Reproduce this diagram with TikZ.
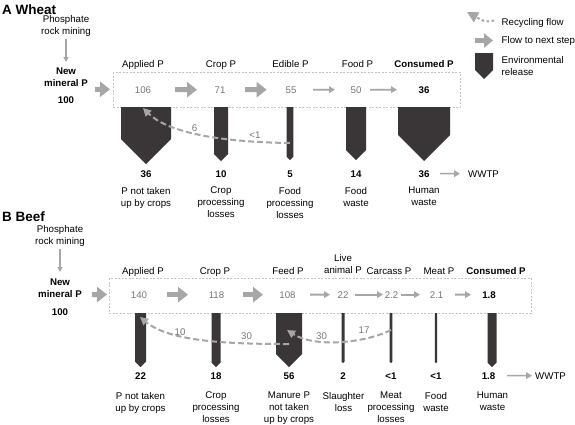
\documentclass[tikz,border=0pt]{standalone}
\usepackage{fontspec}
\setmainfont{Liberation Sans}
\usetikzlibrary{arrows.meta}
\definecolor{flowgray}{RGB}{166,166,166}
\definecolor{relgray}{RGB}{58,54,55}
\definecolor{valgray}{RGB}{120,120,120}
\definecolor{boxgray}{RGB}{196,196,196}
\newcommand\relshape[4]{\fill[relgray] ({#1-#2},#3) -- ({#1+#2},#3) -- ({#1+#2},{#4-#2}) -- (#1,#4) -- ({#1-#2},{#4-#2}) -- cycle;}
\tikzset{
  txt/.style={inner sep=0pt, font=\fontsize{9.7}{12}\selectfont, align=center},
  hdr/.style={txt, anchor=base},
  hdrb/.style={hdr, font=\fontsize{9.7}{12}\selectfont\bfseries},
  val/.style={txt, anchor=base, text=valgray},
  valb/.style={txt, anchor=base, font=\fontsize{9.7}{12}\selectfont\bfseries},
  lbl/.style={txt, anchor=north},
  lblb/.style={lbl, font=\fontsize{9.7}{12}\selectfont\bfseries},
  legtxt/.style={inner sep=0pt, font=\fontsize{9.7}{12}\selectfont, align=left},
  title/.style={inner sep=0pt, anchor=base west, font=\fontsize{13.5}{16}\selectfont\bfseries},
  bigflow/.style={draw=flowgray, line width=5pt, -{Triangle[length=10pt,width=15pt]}},
  smallflow/.style={draw=flowgray, line width=1.8pt, -{Triangle[length=6pt,width=6.5pt]}},
  downflow/.style={draw=flowgray, line width=1.3pt, -{Triangle[length=5pt,width=5pt]}},
  recyc/.style={draw=flowgray, line width=2pt, dash pattern=on 6pt off 3pt, -{Triangle[length=8pt,width=8pt]}},
  framebox/.style={draw=boxgray, line width=0.7pt, dash pattern=on 2pt off 1.5pt},
}
\begin{document}
\begin{tikzpicture}[x=1pt,y=-1pt]
\useasboundingbox (0,0) rectangle (575,424);
\fill[white] (0,0) rectangle (575,424);

% ---------------- Legend ----------------
\coordinate (lgrA) at (494,20.5);
\coordinate (lgrB) at (467,12);
\draw[draw=flowgray, line width=2pt, dash pattern=on 2.5pt off 2.5pt, -{Triangle[length=11pt,width=11pt]}] (lgrA) .. controls (485,22) .. (lgrB);
\node[legtxt, anchor=base west] (lgr) at (501.5,25) {Recycling flow};
\coordinate (lgfA) at (475,40.5);
\coordinate (lgfB) at (493,40.5);
\draw[draw=flowgray, line width=5pt, -{Triangle[length=9pt,width=14pt]}] (lgfA) -- (lgfB);
\node[legtxt, anchor=base west] (lgf) at (501.5,43.5) {Flow to next step};
\relshape{484}{9}{53}{79}
\node[legtxt, anchor=north west] (lge) at (501.5,56) {Environmental\\release};

% ---------------- A Wheat ----------------
\node[title] (wtitle) at (2,14) {A Wheat};
\node[lbl] (wphos) at (66,15.5) {Phosphate\\rock mining};
\node[lblb] (wnew) at (66,67.8) {New\\mineral P};
\node[valb] (w100) at (66,103) {100};
\draw[downflow, shorten <=1.6pt, shorten >=5.8pt] (wphos.south) -- (wnew.north);
\coordinate (wmin) at (66,89);

\draw[framebox] (113,72) rectangle (460,107);

\node[hdr] (wh1) at (143,67) {Applied P};
\node[hdr] (wh2) at (221,67) {Crop P};
\node[hdr] (wh3) at (290.5,67) {Edible P};
\node[hdr] (wh4) at (357.5,67) {Food P};
\node[hdrb] (wh5) at (424,67) {Consumed P};

\node[val] (wv1) at (143,93) {106};
\node[val] (wv2) at (220,93) {71};
\node[val] (wv3) at (291,93) {55};
\node[val] (wv4) at (356,93) {50};
\node[valb] (wv5) at (424,93) {36};

\draw[bigflow, shorten <=29pt, shorten >=33pt] (wmin) -- (wv1.center);
\draw[bigflow, shorten <=32pt, shorten >=23pt] (wv1.center) -- (wv2.center);
\draw[bigflow, shorten <=25pt, shorten >=24.3pt] (wv2.center) -- (wv3.center);
\draw[smallflow, shorten <=22pt, shorten >=21pt] (wv3.center) -- (wv4.center);
\draw[smallflow, shorten <=14pt, shorten >=27pt] (wv4.center) -- (wv5.center);

\relshape{146}{25}{107}{164}
\relshape{221}{7}{107}{161}
\relshape{290}{3.3}{107}{160}
\relshape{356}{10}{107}{160}
\relshape{424}{26}{107}{161}

\coordinate (wrs) at (290,143);
\coordinate (wre) at (143,108);
\draw[recyc] (wrs) .. controls (210,142) and (165,130) .. (wre);
\node[txt, text=valgray] (wr6) at (194.5,128) {6};
\node[txt, text=valgray] (wr1) at (255,135) {<1};

\node[valb] (wb1) at (146,177) {36};
\node[valb] (wb2) at (221,177) {10};
\node[valb] (wb3) at (290,177) {5};
\node[valb] (wb4) at (356,177) {14};
\node[valb] (wb5) at (424,177) {36};

\node[lbl] (wl1) at (146,186.8) {P not taken\\up by crops};
\node[lbl] (wl2) at (221,186.8) {Crop\\processing\\losses};
\node[lbl] (wl3) at (290,186.8) {Food\\processing\\losses};
\node[lbl] (wl4) at (356,186.8) {Food\\waste};
\node[lbl] (wl5) at (424,186.8) {Human\\waste};

\node[txt, anchor=base west] (wwwtp) at (468,177) {WWTP};
\draw[smallflow, line width=1.6pt, shorten <=16pt, shorten >=23.5pt] (wb5.center) -- (wwwtp.center);

% ---------------- B Beef ----------------
\node[title] (btitle) at (2,221) {B Beef};
\node[lbl] (bphos) at (60,224.8) {Phosphate\\rock mining};
\node[lblb] (bnew) at (60,278.8) {New\\mineral P};
\node[valb] (b100) at (60,315) {100};
\draw[downflow, shorten <=3pt, shorten >=6.8pt] (bphos.south) -- (bnew.north);
\coordinate (bmin) at (60,294.4);

\draw[framebox] (109,278) rectangle (531,313);

\node[hdr] (bh1) at (143,274) {Applied P};
\node[hdr] (bh2) at (215,274) {Crop P};
\node[hdr] (bh3) at (288,274) {Feed P};
\node[txt, anchor=south] (bh4) at (343,274) {Live\\animal P};
\node[hdr] (bh5) at (389,274) {Carcass P};
\node[hdr] (bh6) at (439,274) {Meat P};
\node[hdrb] (bh7) at (496,274) {Consumed P};

\node[val] (bv1) at (139,298) {140};
\node[val] (bv2) at (216.5,298) {118};
\node[val] (bv3) at (287.5,298) {108};
\node[val] (bv4) at (343,298) {22};
\node[val] (bv5) at (391.5,298) {2.2};
\node[val] (bv6) at (436.5,298) {2.1};
\node[valb] (bv7) at (489,298) {1.8};

\draw[bigflow, shorten <=32pt, shorten >=32pt] (bmin) -- (bv1.center);
\draw[bigflow, shorten <=28pt, shorten >=28.5pt] (bv1.center) -- (bv2.center);
\draw[bigflow, shorten <=26.5pt, shorten >=24.5pt] (bv2.center) -- (bv3.center);
\draw[smallflow, shorten <=22.5pt, shorten >=13pt] (bv3.center) -- (bv4.center);
\draw[smallflow, shorten <=12pt, shorten >=8.5pt] (bv4.center) -- (bv5.center);
\draw[smallflow, shorten <=9.5pt, shorten >=16.5pt] (bv5.center) -- (bv6.center);
\draw[smallflow, shorten <=18.5pt, shorten >=18pt] (bv6.center) -- (bv7.center);

\relshape{140.5}{5.5}{313}{367}
\relshape{216}{4.5}{313}{367}
\relshape{289}{13}{313}{367}
\relshape{343}{1.5}{313}{363}
\relshape{391}{1.3}{313}{363}
\relshape{436}{1.1}{313}{363}
\relshape{492}{4.5}{313}{367}

\coordinate (br1s) at (289,344);
\coordinate (br1e) at (140,317);
\draw[recyc] (br1s) .. controls (230,344) and (170,342) .. (br1e);
\coordinate (br2s) at (391,330);
\coordinate (br2e) at (287,330);
\draw[recyc] (br2s) .. controls (365,343) and (315,348) .. (br2e);
\node[txt, text=valgray] (br10) at (180,332.5) {10};
\node[txt, text=valgray] (br30a) at (246.5,336) {30};
\node[txt, text=valgray] (br30b) at (321.5,336) {30};
\node[txt, text=valgray] (br17) at (364,330) {17};

\node[valb] (bb1) at (140.5,379) {22};
\node[valb] (bb2) at (216,379) {18};
\node[valb] (bb3) at (289,379) {56};
\node[valb] (bb4) at (343,379) {2};
\node[valb] (bb5) at (391,379) {<1};
\node[valb] (bb6) at (436,379) {<1};
\node[valb] (bb7) at (488.5,379) {1.8};

\node[lbl] (bl1) at (140.5,391.8) {P not taken\\up by crops};
\node[lbl] (bl2) at (216,391.8) {Crop\\processing\\losses};
\node[lbl] (bl3) at (289,391.8) {Manure P\\not taken\\up by crops};
\node[lbl] (bl4) at (343.5,391.8) {Slaughter\\loss};
\node[lbl] (bl5) at (391,391.8) {Meat\\processing\\losses};
\node[lbl] (bl6) at (436,391.8) {Food\\waste};
\node[lbl] (bl7) at (492.5,391.8) {Human\\waste};

\node[txt, anchor=base west] (bwwtp) at (535,379) {WWTP};
\draw[smallflow, line width=1.6pt, shorten <=18.5pt, shorten >=18.5pt] (bb7.center) -- (bwwtp.center);
\end{tikzpicture}
\end{document}
